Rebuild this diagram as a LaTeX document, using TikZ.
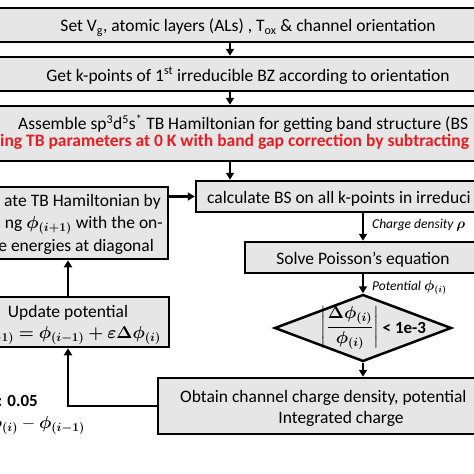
\documentclass[tikz,border=0pt]{standalone}
\usepackage{amsmath,amssymb}
\usepackage{bm}
\usepackage{fontspec}
\setmainfont{Carlito}
\DeclareMathSizes{17.5}{17.5}{12}{9}
\usetikzlibrary{arrows.meta, shapes.geometric, positioning}
\definecolor{boxgray}{RGB}{230,230,230}
\definecolor{tbred}{RGB}{228,30,36}
\tikzset{box/.style={draw, line width=2.5pt, fill=boxgray, inner sep=0pt},
    arr/.style={line width=2.3pt, -{Triangle[length=7pt,width=8pt]}},
    txt/.style={inner sep=0pt, font=\fontsize{17.5}{20}\selectfont},
    boldtxt/.style={inner sep=0pt, font=\fontsize{17}{20}\selectfont\bfseries},
    lbl/.style={inner sep=0pt, font=\fontsize{13.5}{16}\selectfont\itshape}}

\begin{document}
\begin{tikzpicture}[x=1pt,y=-1pt]
\useasboundingbox (0,0) rectangle (474,474);
\clip (0,0) rectangle (474,474);
\fill[white] (0,0) rectangle (474,474);
\node[box, minimum width=560, minimum height=34] (setvg) at (230,25) {};
\node[box, minimum width=560, minimum height=34] (kpts) at (230,74) {};
\node[box, minimum width=560, minimum height=55] (assemble) at (230,133.5) {};
\node[box, minimum width=334, minimum height=31] (calcbs) at (363,196.5) {};
\node[box, minimum width=200, minimum height=72] (hamil) at (68,223) {};
\node[box, minimum width=236, minimum height=31] (poisson) at (363,257.5) {};
\node[box, diamond, minimum width=177, minimum height=67] (conv) at (363,328) {};
\node[box, minimum width=202, minimum height=50] (updpot) at (68,322) {};
\node[box, minimum width=410, minimum height=56] (obtain) at (363,406) {};
\draw[arr] (setvg) -- (kpts);
\draw[arr] (kpts) -- (assemble);
\draw[arr] (assemble.south) -- (assemble.south |- calcbs.north);
\draw[arr] (hamil.east |- calcbs.west) -- (calcbs.west);
\draw[arr] (calcbs) -- (poisson);
\draw[arr] (poisson) -- (conv);
\draw[arr] (conv) -- (obtain);
\draw[arr] (obtain.west) -- (obtain.west -| updpot.south) -- (updpot.south);
\draw[arr] (updpot) -- (hamil);
\node[txt, anchor=base] (setvgtxt) at (248,31.5) {Set V\textsubscript{g}, atomic layers (ALs) , T\textsubscript{ox} \& channel orientation};
\node[txt, anchor=base] (kptstxt) at (248,81) {Get k-points of 1\textsuperscript{st} irreducible BZ according to orientation};
\node[txt, anchor=base west] (assembletxt) at (18,129.5) {Assemble sp\textsuperscript{3}d\textsuperscript{5}s\textsuperscript{*} TB Hamiltonian for getting band structure (BS};
\node[boldtxt, anchor=base west, text=tbred, font=\fontsize{17.5}{20}\selectfont\bfseries] (tbpar) at (0,146.5) {ing TB parameters at 0 K with band gap correction by subtracting};
\node[txt, anchor=base west] (calcbstxt) at (207,203) {calculate BS on all k-points in irreduci};
\node[txt, anchor=base east] (hamtxta) at (161,206) {ate TB Hamiltonian by};
\node[txt, anchor=base east] (hamtxtb) at (163,228) {ng $\bm{\phi_{(i+1)}}$ with the on-};
\node[txt, anchor=base east] (hamtxtc) at (154,251) {e energies at diagonal};
\node[lbl, anchor=base west] (rholbl) at (372,228) {Charge density \fontsize{15}{16}\selectfont$\bm{\rho}$};
\node[txt, anchor=base] (poissontxt) at (363,264) {Solve Poisson's equation};
\node[lbl, anchor=base west] (philbl) at (372,290) {Potential $\bm{\phi_{(i)}}$};
\node[txt, anchor=center] (frac) at (350,328) {$\left|\dfrac{\bm{\Delta\phi_{(i)}}}{\bm{\phi_{(i)}}}\right|$};
\node[boldtxt, anchor=base west] (tol) at (382.5,333) {< 1e-3};
\node[txt, anchor=base] (updtxta) at (68,317) {Update potential};
\node[txt, anchor=base east] (updtxtb) at (161,338) {$\bm{\phi_{(i+1)} = \phi_{(i-1)} + \varepsilon\Delta\phi_{(i)}}$};
\node[txt, anchor=base west] (obtaintxta) at (180,402) {Obtain channel charge density, potential};
\node[txt, anchor=base] (obtaintxtb) at (341,423) {Integrated charge};
\node[boldtxt, anchor=base east] (epstxt) at (38,406) {: 0.05};
\node[txt, anchor=base east] (dphitxt) at (85,428) {$\bm{\phi_{(i)}} - \bm{\phi_{(i-1)}}$};
\end{tikzpicture}
\end{document}
